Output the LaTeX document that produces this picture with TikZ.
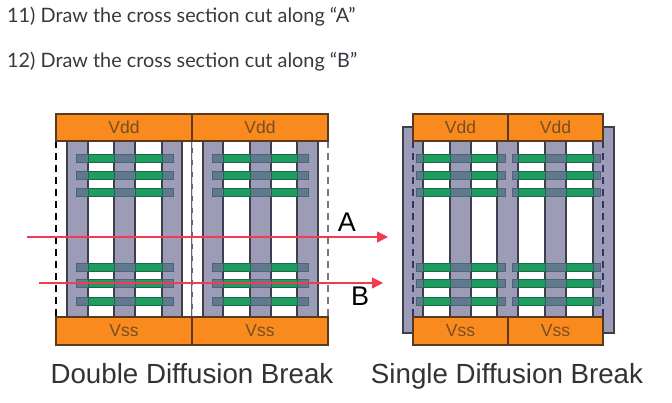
\documentclass[tikz,border=0pt]{standalone}
\usepackage{fontspec}
\setmainfont{Lato}
\newfontfamily\capfont{Liberation Sans}
\usetikzlibrary{arrows.meta}
\definecolor{railfill}{HTML}{F98A1E}
\definecolor{railline}{HTML}{5A3A1E}
\definecolor{railtext}{HTML}{7A4E22}
\definecolor{gatefill}{HTML}{9C9CB6}
\definecolor{gateline}{HTML}{3E3E4E}
\definecolor{finfill}{HTML}{607A8C}
\definecolor{finline}{HTML}{48647A}
\definecolor{greenfill}{HTML}{1F9C60}
\definecolor{greenline}{HTML}{176B4A}
\definecolor{cutred}{HTML}{F23A50}
\definecolor{headtext}{HTML}{333A40}
\begin{document}
\begin{tikzpicture}[x=1pt,y=-1pt,
	rail node/.style={rectangle,draw=railline,line width=1.1pt,fill=railfill,inner sep=0pt,
		minimum height=27pt,text=railtext,font=\capfont\fontsize{17.5}{17.5}\selectfont},
	gate box/.style={draw=gateline,line width=1.1pt,fill=gatefill},
	fin box/.style={draw=finline,line width=.8pt,fill=finfill},
	green box/.style={draw=greenline,line width=.8pt,fill=greenfill},
	cut node/.style={text=black,inner sep=0pt,font=\capfont\fontsize{27}{27}\selectfont},
	title node/.style={anchor=base,text=black!80,inner sep=0pt,font=\capfont\fontsize{27.7}{27.7}\selectfont},
	task node/.style={anchor=base west,text=headtext,inner sep=0pt,font=\fontsize{19.85}{19.85}\selectfont},
	cut line/.style={draw=cutred,line width=1.3pt,-{Triangle[length=11pt,width=11pt]}}]
	
	\useasboundingbox[fill=white] (0,0) rectangle (672,402);
	
	\node[task node] (taskA) at (7,22.5) {11) Draw the cross section cut along “A”};
	\node[task node] (taskB) at (7,67.5) {12) Draw the cross section cut along “B”};
	
	% cell borders, double break
	\draw[line width=1.4pt,dash pattern=on 7pt off 5pt] (56,141) -- (56,317);
	\draw[gateline!80,line width=1.1pt] (192,141) -- (192,317);
	\draw[white!80!gateline,line width=.5pt,dash pattern=on 7pt off 5pt] (192,141) -- (192,317);
	\draw[gateline!70,line width=1.4pt,dash pattern=on 7pt off 5pt] (328,141) -- (328,317);
	
	% outer gates and cell borders, single break
	\draw[gate box] (403,127) rectangle (423,333);
	\draw[gate box] (593,127) rectangle (614,333);
	\draw[gateline!80!blue,line width=1.2pt,dash pattern=on 7pt off 5pt] (413,141) -- (413,317);
	\draw[gateline!80!blue,line width=1.2pt,dash pattern=on 7pt off 5pt] (603,141) -- (603,317);
	
	% gates
	\foreach \xa/\xb in {67/88,114/135,162/182,203/223,250/271,297/318,450/471,497/518,545/566}
	\draw[gate box] (\xa,130) rectangle (\xb,330);
	
	% fins
	\foreach \yy in {158,175,192,267,283,301} {
		\foreach \xa/\xb in {76/173,212/308,416/505,512/600}
		\draw[fin box] (\xa,\yy-4) rectangle (\xb,\yy+4);
		\foreach \xa/\xb in {88/114,135/162,223/250,271/297,423/450,471/497,518/545,566/593}
		\draw[green box] (\xa,\yy-4) rectangle (\xb,\yy+4);
	}
	
	\node[rail node,minimum width=136pt] (vdda) at (124,127.5) {Vdd};
	\node[rail node,minimum width=136pt] (vddb) at (260,127.5) {Vdd};
	\node[rail node,minimum width=95pt] (vddc) at (460.5,127.5) {Vdd};
	\node[rail node,minimum width=95pt] (vddd) at (555.5,127.5) {Vdd};
	\node[rail node,minimum width=136pt,minimum height=28pt] (vssa) at (124,331) {Vss};
	\node[rail node,minimum width=136pt,minimum height=28pt] (vssb) at (260,331) {Vss};
	\node[rail node,minimum width=95pt,minimum height=28pt] (vssc) at (460.5,331) {Vss};
	\node[rail node,minimum width=95pt,minimum height=28pt] (vssd) at (555.5,331) {Vss};
	
	\coordinate (startA) at (27,237);
	\coordinate (endA) at (388,237);
	\coordinate (startB) at (39,283);
	\coordinate (endB) at (383,283);
	\draw[cut line] (startA) -- (endA);
	\draw[cut line] (startB) -- (endB);
	
	\node[cut node] (labelA) at (347,222) {A};
	\node[cut node] (labelB) at (360,296) {B};
	
	\node[title node] (titleD) at (192,383) {Double Diffusion Break};
	\node[title node] (titleS) at (507,383) {Single Diffusion Break};
\end{tikzpicture}
\end{document}
